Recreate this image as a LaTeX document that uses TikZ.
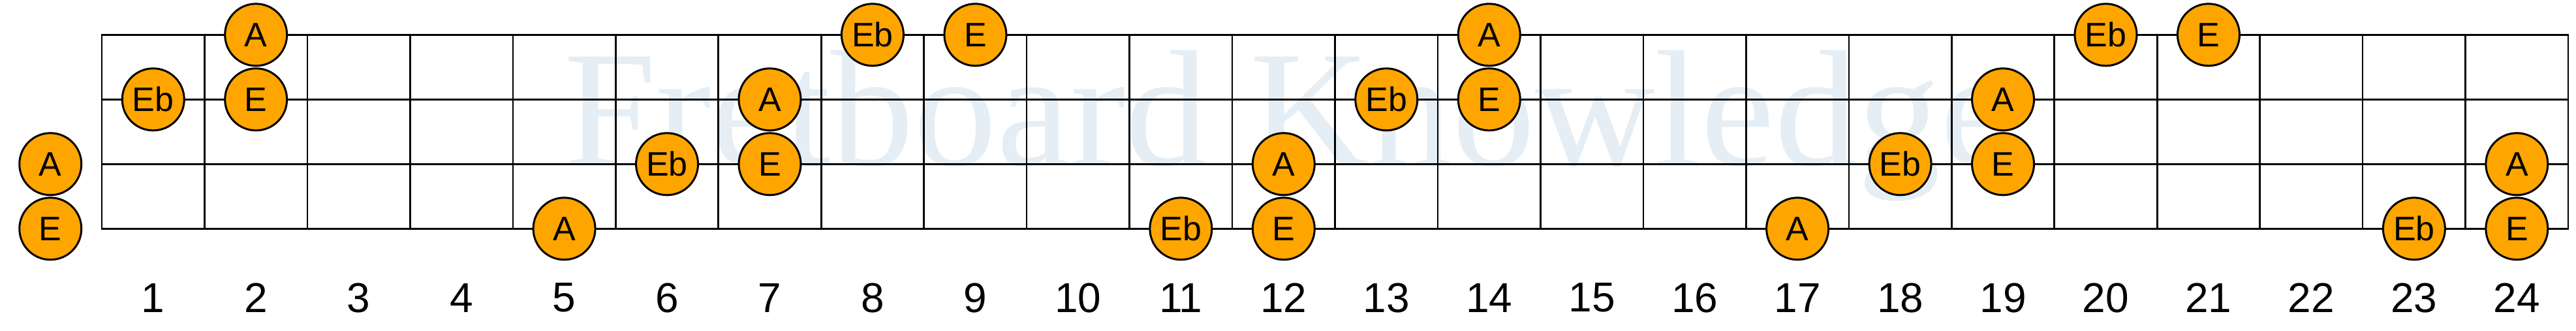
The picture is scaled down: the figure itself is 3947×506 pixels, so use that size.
\documentclass[tikz,border=0pt]{standalone}
\usepackage{fontspec}
\setmainfont{Liberation Sans}
\newfontfamily\markfont{Liberation Serif}
\definecolor{noteorange}{RGB}{255,165,0}
\definecolor{markblue}{RGB}{229,238,244}
\newcommand{\fretWidth}{157.46}
\newcommand{\stringGap}{99}

\begin{document}
\begin{tikzpicture}[x=0.25pt, y=-0.25pt]
  \tikzset{note/.style={circle, draw=black, line width=0.75pt, fill=noteorange,
      minimum size=23.75pt, inner sep=0pt, font=\fontsize{13}{15}\selectfont},
    fretnum/.style={font=\fontsize{16}{19}\selectfont, inner sep=0pt},
    fretline/.style={line width=0.65pt, line cap=rect}}
  \useasboundingbox (0,0) rectangle (3947,506);
  % watermark
  \node[anchor=base, text=markblue, inner sep=0pt,
    font=\markfont\fontsize{63.5}{70}\selectfont] (mark) at (1975,253) {Fretboard Knowledge};
  % strings
  \foreach \s in {1,...,4}
    \draw[fretline] (156,{53.3+(\s-1)*\stringGap}) -- (3935,{53.3+(\s-1)*\stringGap});
  % frets
  \foreach \f in {0,...,24}
    \draw[fretline] ({156+\f*\fretWidth},53.3) -- ({156+\f*\fretWidth},350.3);
  % fret numbers
  \foreach \f in {1,...,24}
    \node[fretnum] (num\f) at ({156+(\f-0.5)*\fretWidth},456) {\f};
  % notes: string/fret/name
  \foreach \s/\f/\n in {1/2/A, 1/8/Eb, 1/9/E, 1/14/A, 1/20/Eb, 1/21/E,
      2/1/Eb, 2/2/E, 2/7/A, 2/13/Eb, 2/14/E, 2/19/A,
      3/0/A, 3/6/Eb, 3/7/E, 3/12/A, 3/18/Eb, 3/19/E, 3/24/A,
      4/0/E, 4/5/A, 4/11/Eb, 4/12/E, 4/17/A, 4/23/Eb, 4/24/E}
    \node[note] (s\s-\f) at ({156+(\f-0.5)*\fretWidth},{53.3+(\s-1)*\stringGap}) {\n};
\end{tikzpicture}
\end{document}
